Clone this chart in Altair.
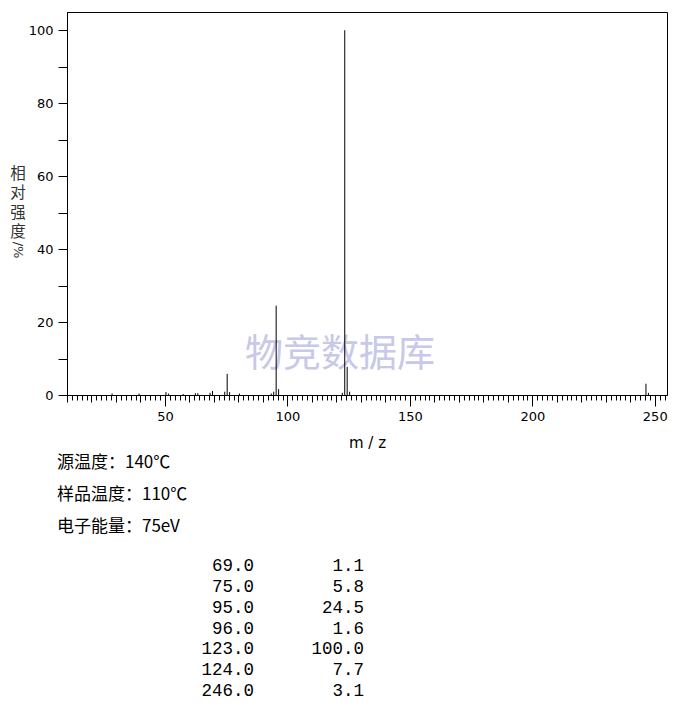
import altair as alt
import pandas as pd

# spectrum peaks (m/z, relative intensity %)
mz = [28, 39, 50, 51, 57, 62, 63, 68, 69, 74, 75, 76, 80, 93, 94, 95, 96,
      122, 123, 124, 125, 246, 247]
intensity = [0.4, 0.4, 0.8, 0.4, 0.3, 0.5, 0.5, 0.6, 1.1, 0.9, 5.8, 0.8, 0.4,
             0.4, 0.9, 24.5, 1.6, 0.6, 100.0, 7.7, 0.9, 3.1, 0.6]

# table below the chart
table_mz = ["69.0", "75.0", "95.0", "96.0", "123.0", "124.0", "246.0"]
table_int = ["1.1", "5.8", "24.5", "1.6", "100.0", "7.7", "3.1"]

info_lines = ["源温度：140℃", "样品温度：110℃", "电子能量：75eV"]
y_title_chars = ["相", "对", "强", "度"]
y_title_tail = "/%"
watermark = "物竞数据库"

x_ticks = list(range(10, 256, 2))
y_ticks = list(range(0, 101, 10))

spec_df = pd.DataFrame({"mz": mz, "intensity": intensity})
table_df = pd.DataFrame({"row": list(range(len(table_mz))), "mz": table_mz, "inten": table_int})
info_df = pd.DataFrame({"row": list(range(len(info_lines))), "text": info_lines})
ytitle_df = pd.DataFrame({"row": list(range(len(y_title_chars))), "ch": y_title_chars})

axis_font = "DejaVu Sans"

wm = alt.Chart(pd.DataFrame({"t": [watermark]})).mark_text(
    font="Noto Sans CJK SC", fontSize=38, color="#c8c8e8", align="center", baseline="middle"
).encode(x=alt.value(273), y=alt.value(343), text="t:N")

rules = alt.Chart(spec_df).mark_rule(color="black", strokeWidth=1, xOffset=1).encode(
    x=alt.X("mz:Q",
            scale=alt.Scale(domain=[10, 255], nice=False, zero=False),
            axis=alt.Axis(
                values=x_ticks,
                tickSize={"condition": [{"test": "datum.value % 50 === 0", "value": 11},
                                        {"test": "datum.value % 10 === 0", "value": 7}],
                          "value": 5},
                labelExpr="datum.value % 50 === 0 ? datum.label : ''",
                labelOverlap=False, labelFlush=False, labelPadding=4,
                labelFont=axis_font, labelFontSize=13, labelColor="black",
                tickColor="black", domainColor="black", grid=False,
                title="m / z", titleFont=axis_font, titleFontSize=15,
                titleFontWeight="normal", titleColor="black", titlePadding=12)),
    y=alt.Y("intensity:Q",
            scale=alt.Scale(domain=[0, 105], nice=False),
            axis=alt.Axis(
                values=y_ticks, tickSize=9,
                labelExpr="datum.value % 20 === 0 ? datum.label : ''",
                labelOverlap=False, labelFlush=False, labelPadding=5,
                labelFont=axis_font, labelFontSize=13, labelColor="black",
                tickColor="black", domainColor="black", grid=False, title=None)),
    y2=alt.datum(0),
)

ytitle = alt.Chart(ytitle_df).mark_text(
    font="Noto Sans CJK SC", fontSize=15.5, color="#333333", align="center",
    baseline="middle"
).encode(
    x=alt.value(-49),
    y=alt.Y("row:Q", scale=alt.Scale(domain=[0, 3], range=[162, 220]), axis=None),
    text="ch:N",
)

ytail = alt.Chart(pd.DataFrame({"t": [y_title_tail]})).mark_text(
    font=axis_font, fontSize=13, color="#333333", align="center",
    baseline="middle", angle=90
).encode(x=alt.value(-49), y=alt.value(238), text="t:N")

info = alt.Chart(info_df).mark_text(
    align="left", baseline="middle", font="Noto Sans CJK SC", fontSize=17, color="black"
).encode(
    x=alt.value(-10),
    y=alt.Y("row:Q", scale=alt.Scale(domain=[0, 2], range=[451, 515]), axis=None),
    text="text:N",
)

col1 = alt.Chart(table_df).mark_text(
    align="right", baseline="middle", font="Liberation Mono", fontSize=17.5, color="black"
).encode(
    x=alt.value(187),
    y=alt.Y("row:Q", scale=alt.Scale(domain=[0, 6], range=[554, 679]), axis=None),
    text="mz:N",
)
col2 = alt.Chart(table_df).mark_text(
    align="right", baseline="middle", font="Liberation Mono", fontSize=17.5, color="black"
).encode(
    x=alt.value(297),
    y=alt.Y("row:Q", scale=alt.Scale(domain=[0, 6], range=[554, 679]), axis=None),
    text="inten:N",
)

chart = alt.layer(wm, rules, ytitle, ytail, info, col1, col2).resolve_scale(
    y="independent"
).properties(
    width=600, height=383,
    autosize=alt.AutoSizeParams(type="none"),
    padding={"left": 59, "top": 4, "right": 5, "bottom": 312},
    background="white",
).configure_view(stroke="black", strokeWidth=1)

chart.save("out.html", embed_options={"renderer": "svg", "actions": False})
